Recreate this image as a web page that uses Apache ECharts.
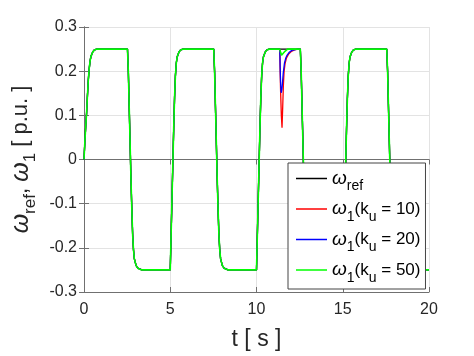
<!DOCTYPE html>
<html>
<head>
<meta charset="utf-8">
<script src="https://cdn.jsdelivr.net/npm/echarts@6/dist/echarts.min.js"></script>
<style>html,body{margin:0;padding:0;background:#fff}#c{width:474px;height:356px}</style>
</head>
<body>
<div id="c"></div>
<script>
// ---- data ----
const seriesNames = ['ω_ref', 'ω_1(k_u = 10)', 'ω_1(k_u = 20)', 'ω_1(k_u = 50)'];
const seriesColors = ['#000000', '#ff0000', '#0000ff', '#00ff00'];
const xTicks = [0, 5, 10, 15, 20];
const yTicks = [-0.3, -0.2, -0.1, 0, 0.1, 0.2, 0.3];

// common speed trajectory [t, value]
const baseWave = [
  [0,0],[0.05,0.04],[0.1,0.075],[0.15,0.105],[0.2,0.145],[0.25,0.18],[0.3,0.205],[0.35,0.222],[0.4,0.233],[0.5,0.243],[0.6,0.248],[0.75,0.25],
  [2.52,0.25],[2.57,0.2],[2.62,0.12],[2.67,0.04],[2.72,-0.04],[2.77,-0.11],[2.82,-0.17],[2.87,-0.205],[2.92,-0.225],[3.02,-0.24],[3.12,-0.246],[3.35,-0.25],
  [5.0,-0.25],[5.05,-0.17],[5.1,-0.09],[5.15,-0.01],[5.2,0.07],[5.25,0.14],[5.3,0.19],[5.35,0.218],[5.4,0.232],[5.5,0.243],[5.6,0.248],[5.75,0.25],
  [7.52,0.25],[7.57,0.2],[7.62,0.12],[7.67,0.04],[7.72,-0.04],[7.77,-0.11],[7.82,-0.17],[7.87,-0.205],[7.92,-0.225],[8.02,-0.24],[8.12,-0.246],[8.35,-0.25],
  [10.0,-0.25],[10.05,-0.17],[10.1,-0.09],[10.15,-0.01],[10.2,0.07],[10.25,0.14],[10.3,0.19],[10.35,0.218],[10.4,0.232],[10.5,0.243],[10.6,0.248],[10.75,0.25],
  [12.54,0.25],[12.59,0.2],[12.64,0.12],[12.69,0.04],[12.74,-0.04],[12.79,-0.11],[12.84,-0.17],[12.89,-0.205],[12.94,-0.225],[13.04,-0.24],[13.14,-0.246],[13.37,-0.25],
  [15.02,-0.25],[15.07,-0.17],[15.12,-0.09],[15.17,-0.01],[15.22,0.07],[15.27,0.14],[15.32,0.19],[15.37,0.218],[15.42,0.232],[15.52,0.243],[15.62,0.248],[15.77,0.25],
  [17.55,0.25],[17.6,0.2],[17.65,0.12],[17.7,0.04],[17.75,-0.04],[17.8,-0.11],[17.85,-0.17],[17.9,-0.205],[17.95,-0.225],[18.05,-0.24],[18.15,-0.246],[18.38,-0.25],
  [20,-0.25]
];
// load disturbance responses near t = 11.35 s
const dipK10 = [[11.35,0.25],[11.37,0.2],[11.4,0.15],[11.44,0.1],[11.48,0.072],[11.52,0.12],[11.56,0.17],[11.6,0.2],[11.66,0.218],[11.74,0.23],[11.85,0.238],[12.0,0.244],[12.2,0.248],[12.4,0.25]];
const dipK20 = [[11.35,0.25],[11.37,0.21],[11.4,0.17],[11.43,0.151],[11.47,0.158],[11.5,0.17],[11.55,0.195],[11.62,0.218],[11.7,0.23],[11.77,0.236],[11.9,0.243],[12.05,0.247],[12.25,0.249],[12.4,0.25]];
const dipK50 = [[11.35,0.25],[11.4,0.242],[11.45,0.236],[11.5,0.235],[11.56,0.239],[11.65,0.245],[11.8,0.25]];

// ---- build ----
function withDip(dip) {
  return baseWave.concat(dip).sort((a, b) => a[0] - b[0]);
}
const seriesData = [baseWave, withDip(dipK10), withDip(dipK20), withDip(dipK50)];

const legendRich = {
  '\u03c9_ref': '{w|ω}{s|ref}',
  '\u03c9_1(k_u = 10)': '{w|ω}{s|1}{n|(k}{s|u}{n| = 10)}',
  '\u03c9_1(k_u = 20)': '{w|ω}{s|1}{n|(k}{s|u}{n| = 20)}',
  '\u03c9_1(k_u = 50)': '{w|ω}{s|1}{n|(k}{s|u}{n| = 50)}'
};

const FONT = 'Liberation Sans';
const axisGray = '#707070';
const labelColor = '#262626';
const fmt = v => { let s = (+v).toFixed(1); if (s === '0.0' || s === '-0.0') s = '0'; return s; };

const chart = echarts.init(document.getElementById('c'), null, {renderer: 'canvas'});
chart.setOption({
  animation: false,
  backgroundColor: '#fff',
  grid: {left: 84, right: 45, top: 27, bottom: 62},
  legend: {
    orient: 'vertical',
    left: 288, top: 163,
    padding: [6, 5, 4, 8],
    itemGap: 6,
    itemWidth: 31,
    itemHeight: 1.5,
    icon: 'rect',
    z: 20,
    backgroundColor: '#fff',
    borderColor: '#444',
    borderWidth: 1,
    borderRadius: 0,
    data: seriesNames,
    formatter: n => legendRich[n],
    textStyle: {
      fontFamily: FONT, color: '#000',
      rich: {
        w: {fontSize: 19, fontStyle: 'italic', fontFamily: FONT, color: '#000'},
        s: {fontSize: 14, padding: [16, 0, 0, 0], fontFamily: FONT, color: '#000'},
        n: {fontSize: 17, fontFamily: FONT, color: '#000'}
      }
    }
  },
  xAxis: [{
    type: 'value', min: 0, max: 20, interval: 5,
    name: 't [ s ]', nameLocation: 'middle', nameGap: 36,
    nameTextStyle: {fontFamily: FONT, fontSize: 23, color: labelColor},
    axisLine: {show: true, onZero: false, lineStyle: {color: axisGray, width: 1}},
    axisTick: {show: true, inside: true, length: 5, lineStyle: {color: axisGray}},
    axisLabel: {fontFamily: FONT, fontSize: 16, color: labelColor, margin: 10, formatter: v => String(v)},
    splitLine: {show: true, lineStyle: {color: '#e3e3e3', width: 1}}
  }, {
    type: 'value', min: 0, max: 20, interval: 5, position: 'top',
    axisLine: {show: true, lineStyle: {color: axisGray, width: 1}},
    axisTick: {show: true, inside: true, length: 5, lineStyle: {color: axisGray}},
    axisLabel: {show: false}, splitLine: {show: false}
  }],
  yAxis: [{
    type: 'value', min: -0.3, max: 0.3, interval: 0.1,
    name: '{w|ω}{s|ref}{n|, }{w|ω}{s|1}{n| [ p.u. ]}',
    nameLocation: 'middle', nameRotate: 90, nameGap: 42,
    nameTextStyle: {
      fontFamily: FONT, color: labelColor,
      rich: {
        w: {fontSize: 25, fontStyle: 'italic', fontFamily: FONT, color: labelColor},
        s: {fontSize: 17, padding: [18, 0, 0, 0], fontFamily: FONT, color: labelColor},
        n: {fontSize: 22, fontFamily: FONT, color: labelColor}
      }
    },
    axisLine: {show: true, onZero: false, lineStyle: {color: axisGray, width: 1}},
    axisTick: {show: true, inside: true, length: 5, lineStyle: {color: axisGray}},
    axisLabel: {fontFamily: FONT, fontSize: 16, color: labelColor, margin: 7, formatter: fmt},
    splitLine: {show: true, lineStyle: {color: '#e3e3e3', width: 1}}
  }, {
    type: 'value', min: -0.3, max: 0.3, interval: 0.1, position: 'right',
    axisLine: {show: true, lineStyle: {color: axisGray, width: 1}},
    axisTick: {show: true, inside: true, length: 5, lineStyle: {color: axisGray}},
    axisLabel: {show: false}, splitLine: {show: false}
  }],
  series: seriesNames.map((name, i) => ({
    name: name,
    type: 'line',
    data: seriesData[i],
    symbol: 'none',
    showSymbol: false,
    color: seriesColors[i],
    lineStyle: {color: seriesColors[i], width: i === 3 ? 1.6 : 1.3},
    z: 2 + i
  }))
});
</script>
</body>
</html>
